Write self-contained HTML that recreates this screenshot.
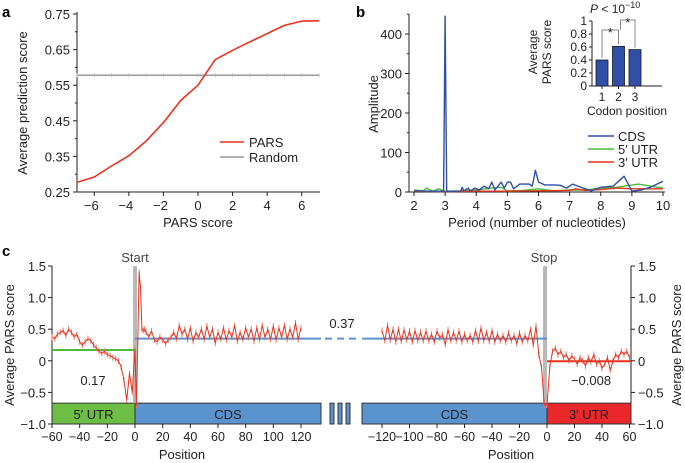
<!DOCTYPE html>
<html><head><meta charset="utf-8">
<style>
html,body{margin:0;padding:0;background:#fff;}
svg{display:block;font-family:"Liberation Sans",Arial,sans-serif;}
</style></head>
<body>
<svg id="fig" width="685" height="463" viewBox="0 0 685 463">
<text x="2" y="17" font-size="15" font-weight="bold">a</text>
<text x="356" y="17" font-size="15" font-weight="bold">b</text>
<text x="2" y="256" font-size="15" font-weight="bold">c</text>
</svg>
<script>
// ---- Panel a data
const aX = [-7,-6,-5,-4,-3,-2,-1,0,1,2,3,4,5,6,7];
const aPars = [0.277,0.292,0.323,0.352,0.393,0.445,0.507,0.55,0.622,0.648,0.672,0.695,0.718,0.73,0.731];
const aRandom = [0.578,0.578,0.578,0.578,0.578,0.578,0.578,0.578,0.578,0.578,0.578,0.578,0.578,0.578,0.578];
const aYTicks = [0.25,0.35,0.45,0.55,0.65,0.75];
const aXTicks = [-6,-4,-2,0,2,4,6];
// ---- Panel b data
const bCdsP = [2,2.5,2.9,2.95,3,3.05,3.1,3.5,3.55,3.6,3.75,3.8,3.95,4.1,4.25,4.4,4.5,4.6,4.8,4.9,5.0,5.1,5.2,5.4,5.5,5.7,5.8,5.9,6.0,6.2,6.5,6.7,6.9,7.1,7.5,7.7,8.0,8.4,8.75,9.0,9.3,9.6,10];
const bCdsV = [3,2,2,0,445,0,2,2,12,3,10,2,10,5,15,8,25,5,25,10,25,25,8,20,20,20,15,55,25,18,18,17,10,20,8,3,12,15,40,2,5,12,27];
const b5P = [2,2.3,2.4,2.6,2.8,3,3.5,4,4.5,4.8,5,5.5,6,6.5,7,7.5,8,8.5,9.2,9.6,10];
const b5V = [5,3,10,2,8,2,3,5,10,12,3,4,8,3,5,5,10,12,20,15,10];
const b3P = [2,3,4,5,6,7,7.2,7.5,8,8.5,9,10];
const b3V = [2,1,2,2,3,4,8,4,6,10,8,8];
const bYTicks = [0,100,200,300,400];
const bXTicks = [2,3,4,5,6,7,8,9,10];
const insetCats = [1,2,3];
const insetVals = [0.4,0.61,0.56];
const insetYTicks = [0,0.2,0.4,0.6,0.8,1];
// ---- Panel c data
const c5Vals = [0.37,0.35,0.42,0.45,0.48,0.40,0.50,0.45,0.38,0.42,0.30,0.25,0.30,0.35,0.32,0.25,0.20,0.15,0.12,0.15,0.10,0.08,0.05,0.03,0.0,-0.1,-0.3,-0.62,-0.2,-0.5,0.18,-0.7,0.3,1.4,1.15,0.5,0.48,0.5,0.45];
const c5Pos = [-60,-58,-56,-54,-52,-50,-48,-46,-44,-42,-40,-38,-36,-34,-32,-30,-28,-26,-24,-22,-20,-18,-16,-14,-12,-10,-8,-6,-4,-2,0,1,2,3,4,5,6,7,8];
const cCdsStart = [0.38,0.47,0.33,0.3,0.38,0.33,0.27,0.33,0.37,0.45,0.35,0.56,0.42,0.5,0.34,0.52,0.31,0.45,0.37,0.5,0.34,0.55,0.37,0.5,0.28,0.45,0.34,0.52,0.33,0.48,0.37,0.56,0.31,0.45,0.34,0.52,0.37,0.5,0.31,0.52,0.34,0.56,0.37,0.5,0.34,0.55,0.33,0.52,0.37,0.56,0.34,0.5,0.37,0.6,0.34,0.52,0.4];
const cCdsEnd = [0.48,0.32,0.56,0.33,0.5,0.3,0.5,0.31,0.49,0.33,0.47,0.3,0.48,0.32,0.45,0.32,0.47,0.32,0.42,0.3,0.47,0.36,0.41,0.26,0.49,0.32,0.45,0.32,0.47,0.3,0.42,0.32,0.4,0.3,0.48,0.31,0.52,0.32,0.45,0.31,0.48,0.3,0.42,0.32,0.4,0.3,0.44,0.32,0.4,0.27,0.44,0.3,0.4,0.32,0.5,0.25,0.55,0.1,-0.1,-0.7];
const c3Vals = [-0.7,-0.1,0.15,0.2,0.1,0.15,0.05,0.1,0.0,0.08,0.02,-0.05,0.05,0.0,-0.08,0.05,-0.02,0.1,-0.05,0.0,-0.12,-0.05,0.05,-0.15,0.0,0.1,0.05,0.15,0.1,0.15,0.05,0.02];
const cMeans = [0.17,0.37,-0.008];

const NS='http://www.w3.org/2000/svg';
const svg=document.getElementById('fig');
function mk(tag,attrs,parent){const e=document.createElementNS(NS,tag);for(const k in attrs)e.setAttribute(k,attrs[k]);(parent||svg).appendChild(e);return e;}
function txt(x,y,s,size,anchor,parent,fill){const t=mk('text',{x:x,y:y,'font-size':size,'text-anchor':anchor||'middle',fill:fill||'#231f20'},parent);t.textContent=s;return t;}
function poly(pts,stroke,w,parent){return mk('polyline',{points:pts.map(p=>p[0].toFixed(1)+','+p[1].toFixed(1)).join(' '),fill:'none',stroke:stroke,'stroke-width':w,'stroke-linejoin':'round'},parent);}

// ===== Panel A
const ax=v=>77+(v+7)*(242/14), ay=v=>192-(v-0.25)*(178/0.5);
const gA=mk('g',{});


mk('line',{x1:77,y1:12,x2:77,y2:192,stroke:'#231f20','stroke-width':1},gA);
mk('line',{x1:77,y1:192,x2:320,y2:192,stroke:'#231f20','stroke-width':1},gA);
aYTicks.forEach(v=>{mk('line',{x1:73,x2:77,y1:ay(v),y2:ay(v),stroke:'#231f20'},gA);const t=txt(70,ay(v)+5,v.toFixed(2),13,'end',gA);});
for(let v=0.3;v<0.75;v+=0.1){mk('line',{x1:75,x2:77,y1:ay(v),y2:ay(v),stroke:'#231f20'},gA);}
aXTicks.forEach(v=>{mk('line',{x1:ax(v),x2:ax(v),y1:192,y2:196,stroke:'#231f20'},gA);const t=txt(ax(v)-(v<0?3:0),210,v<0?'\u2212'+(-v):String(v),13,'middle',gA);});
const aXT=txt(198,227,'PARS score',13,'middle',gA);

const aYT=txt(0,0,'Average prediction score',13,'middle',gA);
aYT.setAttribute('transform','translate(27,103) rotate(-90)');

const rnd=poly(aX.map((x,i)=>[ax(x),ay(aRandom[i])]),'#9a9a9a',1.5,gA);

aX.forEach((x,i)=>{mk('line',{x1:ax(x),x2:ax(x),y1:ay(aRandom[i])-2,y2:ay(aRandom[i])+2,stroke:'#bbb'},gA);});
const pl=poly(aX.map((x,i)=>[ax(x),ay(aPars[i])]),'#e8321e',1.6,gA);

mk('line',{x1:220,x2:244,y1:142,y2:142,stroke:'#e8321e','stroke-width':1.6},gA);
mk('line',{x1:220,x2:244,y1:157,y2:157,stroke:'#999','stroke-width':1.5},gA);
const la1=txt(249,147,'PARS',13,'start',gA);
const la2=txt(249,162,'Random',13,'start',gA);

// ===== Panel B
const bx=v=>414+(v-2)*(249/8), by=v=>192-v*(158/400);
const gB=mk('g',{});


mk('line',{x1:409,y1:14,x2:409,y2:192,stroke:'#231f20'},gB);
mk('line',{x1:409,y1:192,x2:665,y2:192,stroke:'#231f20'},gB);
bYTicks.forEach(v=>{mk('line',{x1:405,x2:409,y1:by(v),y2:by(v),stroke:'#231f20'},gB);const t=txt(402,by(v)+5,String(v),13,'end',gB);});
[50,150,250,350,450].forEach(v=>{if(by(v)>=14)mk('line',{x1:407,x2:409,y1:by(v),y2:by(v),stroke:'#231f20'},gB);});
bXTicks.forEach(v=>{mk('line',{x1:bx(v),x2:bx(v),y1:192,y2:196,stroke:'#231f20'},gB);const t=txt(bx(v),210,String(v),13,'middle',gB);});
const bXT=txt(537,227,'Period (number of nucleotides)',13,'middle',gB);

const bYT=txt(0,0,'Amplitude',13,'middle',gB);
bYT.setAttribute('transform','translate(378,104) rotate(-90)');

const s5=poly(b5P.map((p,i)=>[bx(p),by(b5V[i])]),'#4cbb3a',1.4,gB);
const s3=poly(b3P.map((p,i)=>[bx(p),by(b3V[i])]),'#e8321e',1.4,gB);
const sc=poly(bCdsP.map((p,i)=>[bx(p),by(bCdsV[i])]),'#2f4fa8',1.4,gB);
[['CDS','#2f4fa8',136],['5\u2032 UTR','#4cbb3a',149],['3\u2032 UTR','#e8321e',162]].forEach(l=>{mk('line',{x1:588,x2:614,y1:l[2],y2:l[2],stroke:l[1],'stroke-width':1.6},gB);const t=txt(618,l[2]+5,l[0],13,'start',gB);});
// inset
const ix=c=>602+(c-1)*16.5, iy=v=>86-v*65;
mk('line',{x1:592,y1:21,x2:592,y2:86,stroke:'#231f20'},gB);
mk('line',{x1:592,y1:86,x2:662,y2:86,stroke:'#231f20'},gB);
insetYTicks.forEach(v=>{mk('line',{x1:589,x2:592,y1:iy(v),y2:iy(v),stroke:'#231f20'},gB);const t=txt(587,iy(v)+4,String(v),12,'end',gB);});
insetCats.forEach((c,i)=>{const r=mk('rect',{x:ix(c)-6,y:iy(insetVals[i]),width:12,height:86-iy(insetVals[i]),fill:'#2f4fa8',stroke:'#1a1a1a','stroke-width':0.8},gB);
 mk('line',{x1:ix(c),x2:ix(c),y1:86,y2:89,stroke:'#231f20'},gB);const t=txt(ix(c),101,String(c),12,'middle',gB);});
const icp=txt(627,115,'Codon position',12,'middle',gB);
const iyt1=txt(0,0,'Average',12,'middle',gB);iyt1.setAttribute('transform','translate(537,52) rotate(-90)');
const iyt2=txt(0,0,'PARS score',12,'middle',gB);iyt2.setAttribute('transform','translate(551,52) rotate(-90)');
mk('polyline',{points:`${ix(1)},${iy(0.4)-2} ${ix(1)},30 ${ix(2)},30 ${ix(2)},${iy(0.61)-2}`,fill:'none',stroke:'#888'},gB);
mk('polyline',{points:`${ix(2)+2},30 ${ix(2)+2},20 ${ix(3)},20 ${ix(3)},${iy(0.56)-2}`,fill:'none',stroke:'#888'},gB);
txt((ix(1)+ix(2))/2,37,'*',13,'middle',gB);txt((ix(2)+ix(3))/2+1,27,'*',13,'middle',gB);
const pv=mk('text',{x:590,y:13,'font-size':12,fill:'#231f20'},gB);pv.innerHTML='<tspan font-style="italic">P</tspan> &lt; 10<tspan dy="-5" font-size="9">\u221210</tspan>';


// ===== Panel C
const cy=v=>360.8-v*63.2;
const cxL=v=>52+(v+60)*(83/60), cxR=v=>547+v*(165/120);
const gC=mk('g',{});


mk('line',{x1:52,y1:266,x2:52,y2:424,stroke:'#231f20'},gC);
[1.5,1.0,0.5,0,-0.5,-1.0].forEach(v=>{mk('line',{x1:48,x2:52,y1:cy(v),y2:cy(v),stroke:'#231f20'},gC);const t=txt(46,cy(v)+5,v===0?'0':(v<0?'\u2212':'')+Math.abs(v).toFixed(1),13,'end',gC);});
const cyl=txt(0,0,'Average PARS score',13,'middle',gC);cyl.setAttribute('transform','translate(14,345) rotate(-90)');
mk('line',{x1:631,y1:266,x2:631,y2:424,stroke:'#231f20'},gC);
[1.5,1.0,0.5,0,-0.5,-1.0].forEach(v=>{mk('line',{x1:631,x2:635,y1:cy(v),y2:cy(v),stroke:'#231f20'},gC);const t=txt(638,cy(v)+5,v===0?'0':(v<0?'\u2212':'')+Math.abs(v).toFixed(1),13,'start',gC);});
const cyr=txt(0,0,'Average PARS score',13,'middle',gC);cyr.setAttribute('transform','translate(681,345) rotate(-90)');
const rb=(x1,x2,fill,label,name)=>{const r=mk('rect',{x:x1,y:cy(-0.67),width:x2-x1,height:cy(-1)-cy(-0.67),fill:fill,stroke:'#333','stroke-width':1},gC);if(label){const t=txt((x1+x2)/2,419,label,13,'middle',gC);}};
rb(cxL(-60),cxL(0),'#6cbe45','5\u2032 UTR','utr5-region');
rb(cxL(0),321,'#5b93cf','CDS','cds-region-left');
rb(330,334,'#5b93cf','', 'gap-bar-1');rb(338,342,'#5b93cf','','gap-bar-2');rb(346,350,'#5b93cf','','gap-bar-3');
rb(362,cxR(0),'#5b93cf','CDS','cds-region-right');
rb(cxR(0),631,'#e8282a','3\u2032 UTR','utr3-region');
[-60,-40,-20,0,20,40,60,80,100,120].forEach(v=>{mk('line',{x1:cxL(v),x2:cxL(v),y1:424,y2:428,stroke:'#231f20'},gC);const t=txt(cxL(v),441,v<0?'\u2212'+(-v):String(v),12.5,'middle',gC);});
[-120,-100,-80,-60,-40,-20,0,20,40,60].forEach(v=>{mk('line',{x1:cxR(v),x2:cxR(v),y1:424,y2:428,stroke:'#231f20'},gC);const t=txt(cxR(v),441,v<0?'\u2212'+(-v):String(v),12.5,'middle',gC);});
const px1=txt(182,459,'Position',13,'middle',gC);
const px2=txt(511,459,'Position',13,'middle',gC);
mk('rect',{x:cxL(0)-2,y:266,width:4,height:cy(-0.67)-266,fill:'#b8b8b8'},gC);
mk('rect',{x:cxR(0)-4,y:266,width:4,height:cy(-0.67)-266,fill:'#b8b8b8'},gC);
const st=txt(cxL(0),262,'Start',13,'middle',gC,'#444');
const sp=txt(cxR(0)-3,262,'Stop',13,'middle',gC,'#444');
mk('line',{x1:cxL(-60),x2:cxL(0),y1:cy(cMeans[0]),y2:cy(cMeans[0]),stroke:'#4cbb3a','stroke-width':2},gC);
mk('line',{x1:cxL(0),x2:321,y1:cy(cMeans[1]-0.02),y2:cy(cMeans[1]-0.02),stroke:'#5b93cf','stroke-width':2},gC);
mk('line',{x1:325,x2:360,y1:cy(cMeans[1]-0.02),y2:cy(cMeans[1]-0.02),stroke:'#5b93cf','stroke-width':2,'stroke-dasharray':'7,5'},gC);
mk('line',{x1:362,x2:cxR(0),y1:cy(cMeans[1]-0.02),y2:cy(cMeans[1]-0.02),stroke:'#5b93cf','stroke-width':2},gC);
mk('line',{x1:cxR(0),x2:631,y1:cy(cMeans[2]),y2:cy(cMeans[2]),stroke:'#e8321e','stroke-width':2},gC);
const m1=txt(93,385,String(cMeans[0]),13,'middle',gC);
const m2=txt(342,328,String(cMeans[1]),13,'middle',gC);
const m3=txt(591,385,'\u2212'+Math.abs(cMeans[2]),13,'middle',gC);
const drawRed=(pts,name)=>{pts.forEach(p=>{mk('line',{x1:p[0],x2:p[0],y1:p[1]-3,y2:p[1]+3,stroke:'#f07060','stroke-width':1},gC);});const l=poly(pts,'#e8321e',1,gC);};
drawRed(c5Pos.map((p,i)=>[cxL(p),cy(c5Vals[i])]).concat(cCdsStart.map((v,i)=>[cxL(10+i*2),cy(v)]).filter(p=>p[0]<=cxL(120))),'start-profile');
drawRed(cCdsEnd.map((v,i)=>[cxR(-120+i*2),cy(v)]).concat(c3Vals.map((v,i)=>[cxR(i*2),cy(v)]).filter(p=>p[0]<=631)),'stop-profile');
</script>
</body></html>
